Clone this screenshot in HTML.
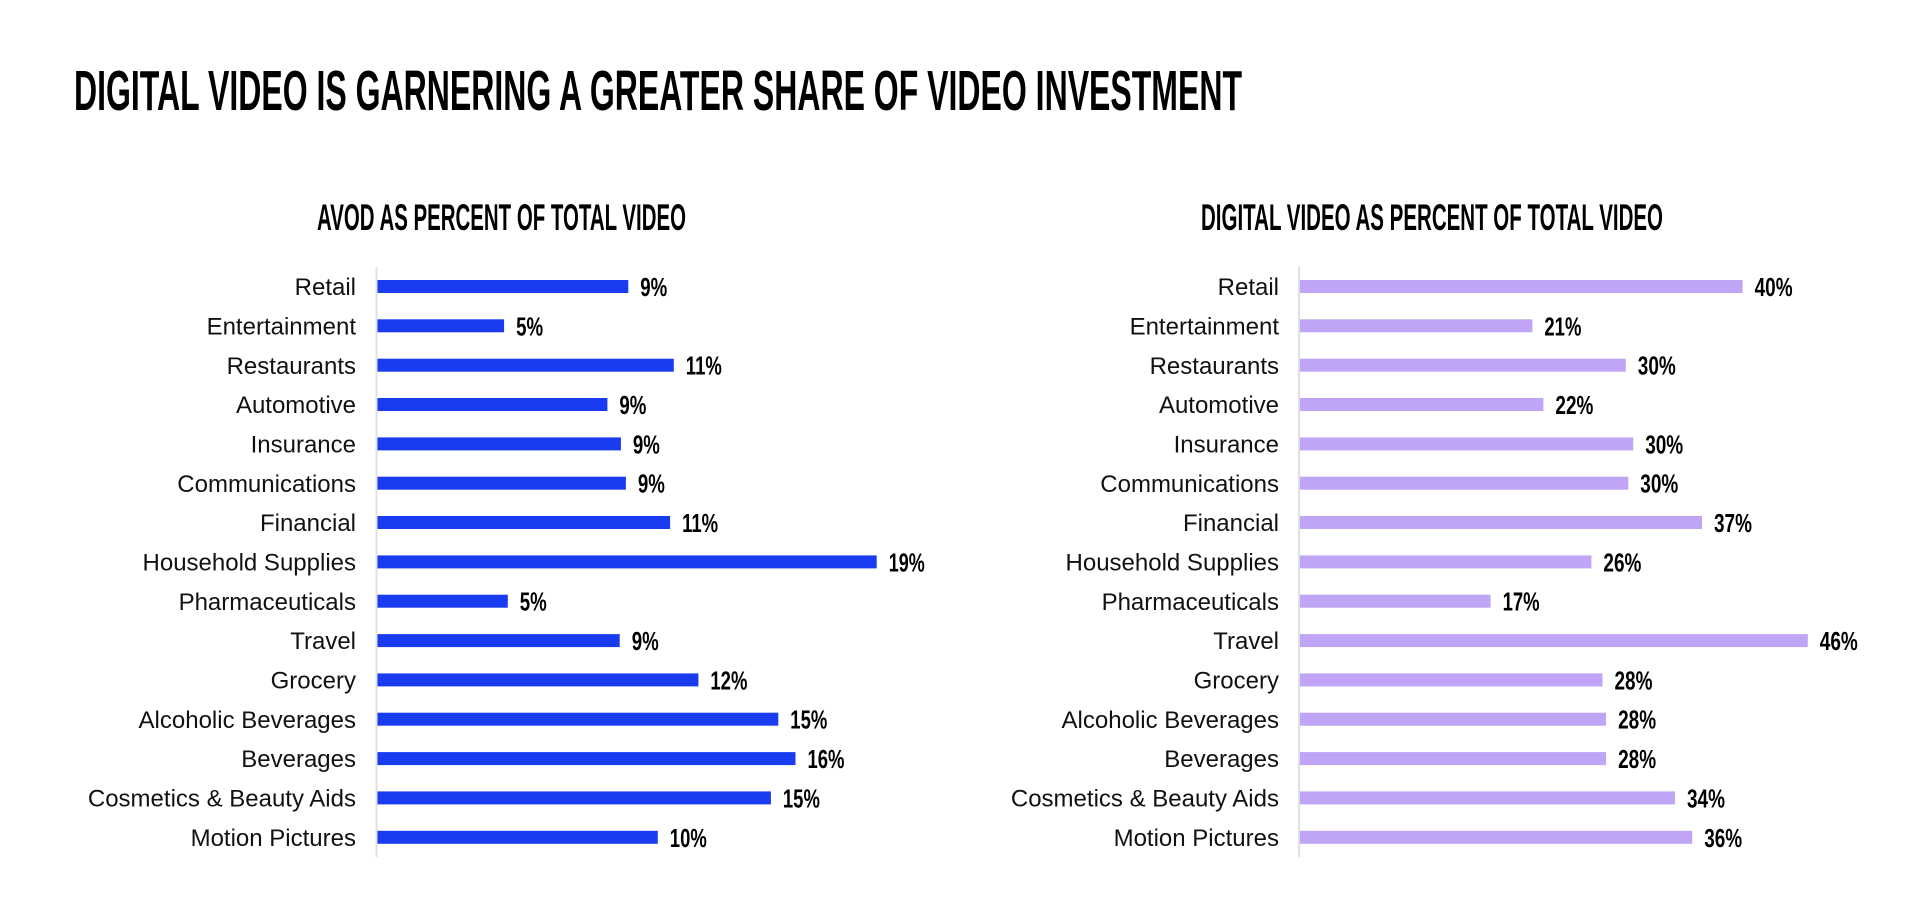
<!DOCTYPE html>
<html><head><meta charset="utf-8"><style>
html,body{margin:0;padding:0;background:#fff;}
svg{display:block}
.t{font-family:"Liberation Sans",sans-serif;font-weight:bold;fill:#000}
.l{font-family:"Liberation Sans",sans-serif;font-size:24px;fill:#111;text-anchor:end}
.v{font-family:"Liberation Sans",sans-serif;font-weight:bold;font-size:26px;fill:#000}
.b{fill:#1a3cf0}.p{fill:#c0a4f5}
</style></head><body>
<svg width="1918" height="911" viewBox="0 0 1918 911" xmlns="http://www.w3.org/2000/svg">
<text class="t" x="74" y="110" font-size="57" textLength="1168" lengthAdjust="spacingAndGlyphs">DIGITAL VIDEO IS GARNERING A GREATER SHARE OF VIDEO INVESTMENT</text>
<text class="t" x="317" y="230" font-size="37" textLength="369" lengthAdjust="spacingAndGlyphs">AVOD AS PERCENT OF TOTAL VIDEO</text>
<text class="t" x="1201" y="230" font-size="37" textLength="462" lengthAdjust="spacingAndGlyphs">DIGITAL VIDEO AS PERCENT OF TOTAL VIDEO</text>
<rect x="375.5" y="267" width="2" height="590" fill="#e0e0e0"/>
<rect x="1298" y="267" width="2" height="590" fill="#e0e0e0"/>
<g>
<text class="l" x="356" y="295">Retail</text>
<text class="l" x="356" y="334.4">Entertainment</text>
<text class="l" x="356" y="373.8">Restaurants</text>
<text class="l" x="356" y="413">Automotive</text>
<text class="l" x="356" y="452.5">Insurance</text>
<text class="l" x="356" y="491.8">Communications</text>
<text class="l" x="356" y="531">Financial</text>
<text class="l" x="356" y="570.5">Household Supplies</text>
<text class="l" x="356" y="609.8">Pharmaceuticals</text>
<text class="l" x="356" y="649.2">Travel</text>
<text class="l" x="356" y="688.5">Grocery</text>
<text class="l" x="356" y="727.8">Alcoholic Beverages</text>
<text class="l" x="356" y="767.2">Beverages</text>
<text class="l" x="356" y="806.5">Cosmetics &amp; Beauty Aids</text>
<text class="l" x="356" y="845.9">Motion Pictures</text>
</g>
<g>
<text class="l" x="1279" y="295">Retail</text>
<text class="l" x="1279" y="334.4">Entertainment</text>
<text class="l" x="1279" y="373.8">Restaurants</text>
<text class="l" x="1279" y="413">Automotive</text>
<text class="l" x="1279" y="452.5">Insurance</text>
<text class="l" x="1279" y="491.8">Communications</text>
<text class="l" x="1279" y="531">Financial</text>
<text class="l" x="1279" y="570.5">Household Supplies</text>
<text class="l" x="1279" y="609.8">Pharmaceuticals</text>
<text class="l" x="1279" y="649.2">Travel</text>
<text class="l" x="1279" y="688.5">Grocery</text>
<text class="l" x="1279" y="727.8">Alcoholic Beverages</text>
<text class="l" x="1279" y="767.2">Beverages</text>
<text class="l" x="1279" y="806.5">Cosmetics &amp; Beauty Aids</text>
<text class="l" x="1279" y="845.9">Motion Pictures</text>
</g>
<g class="b">
<rect x="377.5" y="280" width="250.8" height="13"/>
<rect x="377.5" y="319.3" width="126.6" height="13"/>
<rect x="377.5" y="358.7" width="296.3" height="13"/>
<rect x="377.5" y="398" width="229.9" height="13"/>
<rect x="377.5" y="437.4" width="243.4" height="13"/>
<rect x="377.5" y="476.7" width="248.4" height="13"/>
<rect x="377.5" y="516" width="292.6" height="13"/>
<rect x="377.5" y="555.4" width="499.2" height="13"/>
<rect x="377.5" y="594.7" width="130.3" height="13"/>
<rect x="377.5" y="634.1" width="242.2" height="13"/>
<rect x="377.5" y="673.4" width="320.9" height="13"/>
<rect x="377.5" y="712.7" width="400.8" height="13"/>
<rect x="377.5" y="752.1" width="418" height="13"/>
<rect x="377.5" y="791.4" width="393.4" height="13"/>
<rect x="377.5" y="830.8" width="280.3" height="13"/>
</g>
<g class="p">
<rect x="1300" y="280" width="442.6" height="13"/>
<rect x="1300" y="319.3" width="232.4" height="13"/>
<rect x="1300" y="358.7" width="325.8" height="13"/>
<rect x="1300" y="398" width="243.4" height="13"/>
<rect x="1300" y="437.4" width="333.2" height="13"/>
<rect x="1300" y="476.7" width="328.3" height="13"/>
<rect x="1300" y="516" width="402" height="13"/>
<rect x="1300" y="555.4" width="291.4" height="13"/>
<rect x="1300" y="594.7" width="190.6" height="13"/>
<rect x="1300" y="634.1" width="507.8" height="13"/>
<rect x="1300" y="673.4" width="302.5" height="13"/>
<rect x="1300" y="712.7" width="306.1" height="13"/>
<rect x="1300" y="752.1" width="306.1" height="13"/>
<rect x="1300" y="791.4" width="375" height="13"/>
<rect x="1300" y="830.8" width="392.2" height="13"/>
</g>
<g class="v" lengthAdjust="spacingAndGlyphs">
<text class="v" x="640.3" y="296" textLength="27" lengthAdjust="spacingAndGlyphs">9%</text>
<text class="v" x="516.1" y="335.3" textLength="27" lengthAdjust="spacingAndGlyphs">5%</text>
<text class="v" x="685.8" y="374.7" textLength="36" lengthAdjust="spacingAndGlyphs">11%</text>
<text class="v" x="619.4" y="414" textLength="27" lengthAdjust="spacingAndGlyphs">9%</text>
<text class="v" x="632.9" y="453.4" textLength="27" lengthAdjust="spacingAndGlyphs">9%</text>
<text class="v" x="637.9" y="492.7" textLength="27" lengthAdjust="spacingAndGlyphs">9%</text>
<text class="v" x="682.1" y="532" textLength="36" lengthAdjust="spacingAndGlyphs">11%</text>
<text class="v" x="888.7" y="571.4" textLength="36" lengthAdjust="spacingAndGlyphs">19%</text>
<text class="v" x="519.8" y="610.7" textLength="27" lengthAdjust="spacingAndGlyphs">5%</text>
<text class="v" x="631.7" y="650.1" textLength="27" lengthAdjust="spacingAndGlyphs">9%</text>
<text class="v" x="710.4" y="689.4" textLength="37" lengthAdjust="spacingAndGlyphs">12%</text>
<text class="v" x="790.3" y="728.7" textLength="37" lengthAdjust="spacingAndGlyphs">15%</text>
<text class="v" x="807.5" y="768.1" textLength="37" lengthAdjust="spacingAndGlyphs">16%</text>
<text class="v" x="782.9" y="807.4" textLength="37" lengthAdjust="spacingAndGlyphs">15%</text>
<text class="v" x="669.8" y="846.8" textLength="37" lengthAdjust="spacingAndGlyphs">10%</text>
<text class="v" x="1754.6" y="296" textLength="38" lengthAdjust="spacingAndGlyphs">40%</text>
<text class="v" x="1544.4" y="335.3" textLength="37" lengthAdjust="spacingAndGlyphs">21%</text>
<text class="v" x="1637.8" y="374.7" textLength="38" lengthAdjust="spacingAndGlyphs">30%</text>
<text class="v" x="1555.4" y="414" textLength="38" lengthAdjust="spacingAndGlyphs">22%</text>
<text class="v" x="1645.2" y="453.4" textLength="38" lengthAdjust="spacingAndGlyphs">30%</text>
<text class="v" x="1640.3" y="492.7" textLength="38" lengthAdjust="spacingAndGlyphs">30%</text>
<text class="v" x="1714" y="532" textLength="38" lengthAdjust="spacingAndGlyphs">37%</text>
<text class="v" x="1603.4" y="571.4" textLength="38" lengthAdjust="spacingAndGlyphs">26%</text>
<text class="v" x="1502.6" y="610.7" textLength="37" lengthAdjust="spacingAndGlyphs">17%</text>
<text class="v" x="1819.8" y="650.1" textLength="38" lengthAdjust="spacingAndGlyphs">46%</text>
<text class="v" x="1614.5" y="689.4" textLength="38" lengthAdjust="spacingAndGlyphs">28%</text>
<text class="v" x="1618.1" y="728.7" textLength="38" lengthAdjust="spacingAndGlyphs">28%</text>
<text class="v" x="1618.1" y="768.1" textLength="38" lengthAdjust="spacingAndGlyphs">28%</text>
<text class="v" x="1687" y="807.4" textLength="38" lengthAdjust="spacingAndGlyphs">34%</text>
<text class="v" x="1704.2" y="846.8" textLength="38" lengthAdjust="spacingAndGlyphs">36%</text>
</g>
</svg>
</body></html>
